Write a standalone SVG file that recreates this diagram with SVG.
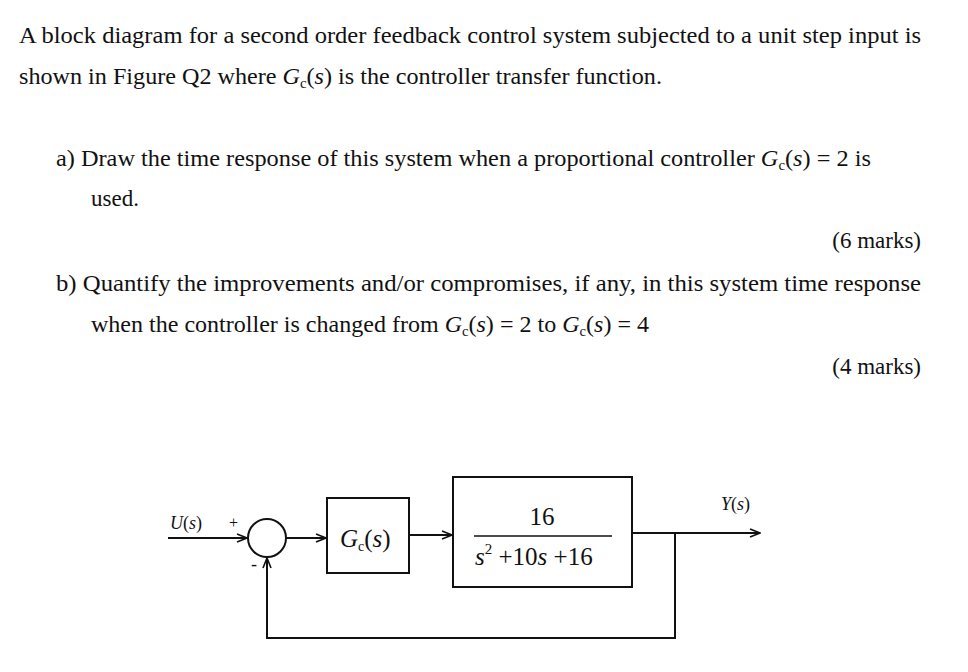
<svg xmlns="http://www.w3.org/2000/svg" width="968" height="672" viewBox="0 0 968 672">
<style>
text{font-family:"Liberation Serif","Times New Roman",serif;font-size:23px;fill:#111}
.i{font-style:italic}
.s{font-size:14px}
.b{fill:none;stroke:#111;stroke-width:2}
</style>
<defs><marker id="a" markerWidth="12" markerHeight="10" refX="11" refY="5" orient="auto" markerUnits="userSpaceOnUse"><path d="M1,1 L11,5 L1,9" fill="none" stroke="#111" stroke-width="1.6"/></marker></defs>
<rect width="968" height="672" fill="#fff"/>
<text x="19" y="43" textLength="902" lengthAdjust="spacingAndGlyphs">A block diagram for a second order feedback control system subjected to a unit step input is</text>
<text x="19" y="84" textLength="643" lengthAdjust="spacingAndGlyphs">shown in Figure Q2 where <tspan class="i">G</tspan><tspan class="s" dy="4">c</tspan><tspan dy="-4">(</tspan><tspan class="i">s</tspan>) is the controller transfer function.</text>
<text x="56" y="166" textLength="815" lengthAdjust="spacingAndGlyphs">a)  Draw the time response of this system when a proportional controller <tspan class="i">G</tspan><tspan class="s" dy="4">c</tspan><tspan dy="-4">(</tspan><tspan class="i">s</tspan>) = 2 is</text>
<text x="91" y="206">used.</text>
<text x="921" y="248" text-anchor="end">(6 marks)</text>
<text x="56" y="291" textLength="865" lengthAdjust="spacingAndGlyphs">b)  Quantify the improvements and/or compromises, if any, in this system time response</text>
<text x="91" y="332" textLength="558" lengthAdjust="spacingAndGlyphs">when the controller is changed from <tspan class="i">G</tspan><tspan class="s" dy="4">c</tspan><tspan dy="-4">(</tspan><tspan class="i">s</tspan>) = 2 to <tspan class="i">G</tspan><tspan class="s" dy="4">c</tspan><tspan dy="-4">(</tspan><tspan class="i">s</tspan>) = 4</text>
<text x="921" y="374" text-anchor="end">(4 marks)</text>
<g id="sum"><circle class="b" cx="267" cy="538" r="19"/></g>
<g id="gc"><rect class="b" x="327" y="498" width="82" height="75"/><text x="340" y="547" style="font-size:25px"><tspan class="i">G</tspan><tspan class="s" dy="4">c</tspan><tspan dy="-4">(</tspan><tspan class="i">s</tspan>)</text></g>
<g id="plant"><rect class="b" x="453" y="477" width="179" height="110"/><text x="542" y="525" text-anchor="middle" style="font-size:25px">16</text><line x1="474" y1="536" x2="612" y2="536" stroke="#111" stroke-width="1.5"/><text x="475" y="565" style="font-size:25px"><tspan class="i">s</tspan><tspan style="font-size:15px" dy="-11">2</tspan><tspan dy="11"> +10</tspan><tspan class="i">s</tspan> +16</text></g>
<g id="labels"><text x="170" y="529" class="i" style="font-size:18px">U<tspan font-style="normal">(</tspan>s<tspan font-style="normal">)</tspan></text><text x="229" y="528" style="font-size:16px">+</text><text x="251" y="570" style="font-size:18px">-</text><text x="721" y="510" class="i" style="font-size:18px">Y<tspan font-style="normal">(</tspan>s<tspan font-style="normal">)</tspan></text></g>
<g id="connectors" fill="none" stroke="#111" stroke-width="2">
<line x1="168" y1="538" x2="247" y2="538" marker-end="url(#a)"/>
<line x1="286" y1="538" x2="326" y2="538" marker-end="url(#a)"/>
<line x1="409" y1="535" x2="452" y2="535" marker-end="url(#a)"/>
<line x1="632" y1="533" x2="760" y2="533" marker-end="url(#a)"/>
<polyline points="675,533 675,638 267,638 267,558" marker-end="url(#a)"/>
</g>
</svg>
